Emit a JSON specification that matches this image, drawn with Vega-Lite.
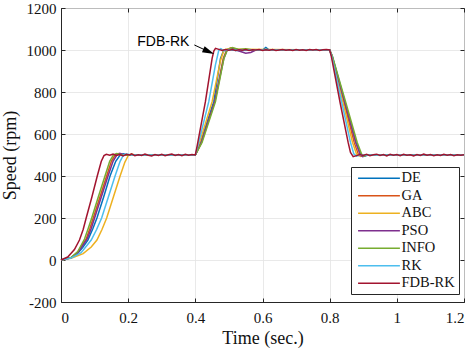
{
  "$schema": "https://vega.github.io/schema/vega-lite/v6.json",
  "width": 403,
  "height": 294,
  "autosize": {"type": "none"},
  "padding": {"left": 61, "top": 8, "right": 10, "bottom": 47},
  "background": "white",
  "config": {
    "view": {"stroke": "#262626", "strokeWidth": 1},
    "axis": {
      "labelFont": "Liberation Serif",
      "titleFont": "Liberation Serif",
      "labelFontSize": 15,
      "titleFontSize": 18,
      "titleFontWeight": "normal",
      "labelColor": "#111",
      "titleColor": "#111",
      "gridColor": "#e3e3e3",
      "gridWidth": 0.8,
      "domainColor": "#262626",
      "tickColor": "#262626",
      "tickSize": -4
    }
  },
  "resolve": {"axis": {"x": "independent", "y": "independent"}},
  "datasets": {
    "speed": [
      {"m":"DE","t":0,"v":0},{"m":"DE","t":0.03,"v":10},{"m":"DE","t":0.05,"v":32},{"m":"DE","t":0.065,"v":60},{"m":"DE","t":0.08,"v":95},{"m":"DE","t":0.095,"v":150},{"m":"DE","t":0.107,"v":200},{"m":"DE","t":0.127,"v":300},{"m":"DE","t":0.146,"v":400},{"m":"DE","t":0.163,"v":470},{"m":"DE","t":0.176,"v":500},{"m":"DE","t":0.185,"v":506},{"m":"DE","t":0.2,"v":500},{"m":"DE","t":0.4,"v":500},{"m":"DE","t":0.415,"v":560},{"m":"DE","t":0.455,"v":754},{"m":"DE","t":0.475,"v":960},{"m":"DE","t":0.485,"v":1000},{"m":"DE","t":0.5,"v":1004},{"m":"DE","t":0.52,"v":998},{"m":"DE","t":0.6,"v":1000},{"m":"DE","t":0.61,"v":1012},{"m":"DE","t":0.62,"v":1000},{"m":"DE","t":0.8,"v":1000},{"m":"DE","t":0.808,"v":970},{"m":"DE","t":0.846,"v":750},{"m":"DE","t":0.878,"v":560},{"m":"DE","t":0.892,"v":505},{"m":"DE","t":0.9,"v":493},{"m":"DE","t":0.915,"v":500},{"m":"DE","t":1.2,"v":500},

      {"m":"GA","t":0,"v":0},{"m":"GA","t":0.03,"v":11},{"m":"GA","t":0.05,"v":38},{"m":"GA","t":0.075,"v":100},{"m":"GA","t":0.086,"v":150},{"m":"GA","t":0.096,"v":200},{"m":"GA","t":0.116,"v":300},{"m":"GA","t":0.136,"v":400},{"m":"GA","t":0.15,"v":470},{"m":"GA","t":0.161,"v":500},{"m":"GA","t":0.17,"v":507},{"m":"GA","t":0.185,"v":500},{"m":"GA","t":0.4,"v":500},{"m":"GA","t":0.418,"v":560},{"m":"GA","t":0.458,"v":754},{"m":"GA","t":0.483,"v":960},{"m":"GA","t":0.493,"v":1000},{"m":"GA","t":0.505,"v":1010},{"m":"GA","t":0.52,"v":1002},{"m":"GA","t":0.8,"v":1000},{"m":"GA","t":0.807,"v":970},{"m":"GA","t":0.843,"v":750},{"m":"GA","t":0.873,"v":560},{"m":"GA","t":0.885,"v":505},{"m":"GA","t":0.893,"v":493},{"m":"GA","t":0.905,"v":500},{"m":"GA","t":1.2,"v":500},

      {"m":"ABC","t":0,"v":0},{"m":"ABC","t":0.03,"v":8},{"m":"ABC","t":0.066,"v":30},{"m":"ABC","t":0.09,"v":62},{"m":"ABC","t":0.107,"v":95},{"m":"ABC","t":0.122,"v":145},{"m":"ABC","t":0.136,"v":200},{"m":"ABC","t":0.156,"v":300},{"m":"ABC","t":0.176,"v":400},{"m":"ABC","t":0.19,"v":465},{"m":"ABC","t":0.201,"v":500},{"m":"ABC","t":0.21,"v":505},{"m":"ABC","t":0.22,"v":500},{"m":"ABC","t":0.4,"v":500},{"m":"ABC","t":0.41,"v":545},{"m":"ABC","t":0.45,"v":754},{"m":"ABC","t":0.475,"v":950},{"m":"ABC","t":0.485,"v":1000},{"m":"ABC","t":0.51,"v":1010},{"m":"ABC","t":0.53,"v":1003},{"m":"ABC","t":0.8,"v":1000},{"m":"ABC","t":0.807,"v":970},{"m":"ABC","t":0.84,"v":750},{"m":"ABC","t":0.868,"v":560},{"m":"ABC","t":0.88,"v":505},{"m":"ABC","t":0.888,"v":495},{"m":"ABC","t":0.9,"v":500},{"m":"ABC","t":1.2,"v":500},

      {"m":"PSO","t":0,"v":0},{"m":"PSO","t":0.03,"v":10},{"m":"PSO","t":0.05,"v":35},{"m":"PSO","t":0.078,"v":100},{"m":"PSO","t":0.09,"v":150},{"m":"PSO","t":0.1,"v":200},{"m":"PSO","t":0.12,"v":300},{"m":"PSO","t":0.14,"v":400},{"m":"PSO","t":0.155,"v":470},{"m":"PSO","t":0.166,"v":500},{"m":"PSO","t":0.175,"v":508},{"m":"PSO","t":0.19,"v":500},{"m":"PSO","t":0.4,"v":500},{"m":"PSO","t":0.418,"v":560},{"m":"PSO","t":0.458,"v":754},{"m":"PSO","t":0.485,"v":960},{"m":"PSO","t":0.495,"v":1000},{"m":"PSO","t":0.51,"v":1008},{"m":"PSO","t":0.53,"v":995},{"m":"PSO","t":0.55,"v":985},{"m":"PSO","t":0.565,"v":988},{"m":"PSO","t":0.58,"v":1000},{"m":"PSO","t":0.8,"v":1000},{"m":"PSO","t":0.807,"v":970},{"m":"PSO","t":0.845,"v":750},{"m":"PSO","t":0.878,"v":560},{"m":"PSO","t":0.89,"v":505},{"m":"PSO","t":0.898,"v":492},{"m":"PSO","t":0.91,"v":500},{"m":"PSO","t":1.2,"v":500},

      {"m":"INFO","t":0,"v":0},{"m":"INFO","t":0.03,"v":12},{"m":"INFO","t":0.05,"v":40},{"m":"INFO","t":0.07,"v":100},{"m":"INFO","t":0.081,"v":150},{"m":"INFO","t":0.0915,"v":200},{"m":"INFO","t":0.111,"v":300},{"m":"INFO","t":0.131,"v":400},{"m":"INFO","t":0.145,"v":470},{"m":"INFO","t":0.156,"v":500},{"m":"INFO","t":0.165,"v":507},{"m":"INFO","t":0.18,"v":500},{"m":"INFO","t":0.4,"v":500},{"m":"INFO","t":0.42,"v":560},{"m":"INFO","t":0.46,"v":754},{"m":"INFO","t":0.485,"v":960},{"m":"INFO","t":0.495,"v":1000},{"m":"INFO","t":0.51,"v":1012},{"m":"INFO","t":0.53,"v":1002},{"m":"INFO","t":0.55,"v":1006},{"m":"INFO","t":0.57,"v":1000},{"m":"INFO","t":0.8,"v":1000},{"m":"INFO","t":0.808,"v":970},{"m":"INFO","t":0.848,"v":750},{"m":"INFO","t":0.882,"v":560},{"m":"INFO","t":0.895,"v":505},{"m":"INFO","t":0.902,"v":495},{"m":"INFO","t":0.912,"v":500},{"m":"INFO","t":1.2,"v":500},

      {"m":"RK","t":0,"v":0},{"m":"RK","t":0.03,"v":9},{"m":"RK","t":0.06,"v":35},{"m":"RK","t":0.09,"v":95},{"m":"RK","t":0.106,"v":145},{"m":"RK","t":0.121,"v":200},{"m":"RK","t":0.141,"v":300},{"m":"RK","t":0.161,"v":400},{"m":"RK","t":0.176,"v":470},{"m":"RK","t":0.186,"v":500},{"m":"RK","t":0.195,"v":505},{"m":"RK","t":0.21,"v":500},{"m":"RK","t":0.4,"v":500},{"m":"RK","t":0.41,"v":560},{"m":"RK","t":0.44,"v":754},{"m":"RK","t":0.46,"v":930},{"m":"RK","t":0.47,"v":1000},{"m":"RK","t":0.476,"v":1006},{"m":"RK","t":0.485,"v":996},{"m":"RK","t":0.5,"v":1002},{"m":"RK","t":0.52,"v":1000},{"m":"RK","t":0.8,"v":1000},{"m":"RK","t":0.806,"v":970},{"m":"RK","t":0.836,"v":750},{"m":"RK","t":0.862,"v":560},{"m":"RK","t":0.872,"v":505},{"m":"RK","t":0.88,"v":495},{"m":"RK","t":0.89,"v":500},{"m":"RK","t":1.2,"v":500},

      {"m":"FDB-RK","t":0,"v":0},{"m":"FDB-RK","t":0.02,"v":14},{"m":"FDB-RK","t":0.04,"v":50},{"m":"FDB-RK","t":0.055,"v":95},{"m":"FDB-RK","t":0.066,"v":145},{"m":"FDB-RK","t":0.075,"v":200},{"m":"FDB-RK","t":0.092,"v":300},{"m":"FDB-RK","t":0.108,"v":400},{"m":"FDB-RK","t":0.12,"v":470},{"m":"FDB-RK","t":0.128,"v":497},{"m":"FDB-RK","t":0.135,"v":503},
      {"m":"FDB-RK","t":0.145,"v":499},{"m":"FDB-RK","t":0.155,"v":504},{"m":"FDB-RK","t":0.165,"v":498},{"m":"FDB-RK","t":0.175,"v":502},{"m":"FDB-RK","t":0.185,"v":496},{"m":"FDB-RK","t":0.195,"v":503},{"m":"FDB-RK","t":0.205,"v":500},{"m":"FDB-RK","t":0.21,"v":505},{"m":"FDB-RK","t":0.22,"v":497},{"m":"FDB-RK","t":0.23,"v":501},{"m":"FDB-RK","t":0.24,"v":498},{"m":"FDB-RK","t":0.25,"v":504},{"m":"FDB-RK","t":0.26,"v":499},{"m":"FDB-RK","t":0.27,"v":495},{"m":"FDB-RK","t":0.28,"v":502},{"m":"FDB-RK","t":0.29,"v":498},{"m":"FDB-RK","t":0.3,"v":503},{"m":"FDB-RK","t":0.31,"v":497},{"m":"FDB-RK","t":0.32,"v":501},{"m":"FDB-RK","t":0.33,"v":505},{"m":"FDB-RK","t":0.34,"v":498},{"m":"FDB-RK","t":0.35,"v":502},{"m":"FDB-RK","t":0.36,"v":497},{"m":"FDB-RK","t":0.37,"v":503},{"m":"FDB-RK","t":0.38,"v":499},{"m":"FDB-RK","t":0.39,"v":502},{"m":"FDB-RK","t":0.4,"v":500},
      {"m":"FDB-RK","t":0.405,"v":540},{"m":"FDB-RK","t":0.43,"v":754},{"m":"FDB-RK","t":0.45,"v":960},{"m":"FDB-RK","t":0.455,"v":995},{"m":"FDB-RK","t":0.46,"v":1008},{"m":"FDB-RK","t":0.47,"v":1003},{"m":"FDB-RK","t":0.48,"v":998},{"m":"FDB-RK","t":0.49,"v":1002},{"m":"FDB-RK","t":0.5,"v":999},{"m":"FDB-RK","t":0.51,"v":1002},{"m":"FDB-RK","t":0.52,"v":998},{"m":"FDB-RK","t":0.53,"v":1001},{"m":"FDB-RK","t":0.54,"v":999},{"m":"FDB-RK","t":0.55,"v":1002},{"m":"FDB-RK","t":0.56,"v":998},{"m":"FDB-RK","t":0.57,"v":1001},{"m":"FDB-RK","t":0.58,"v":1000},{"m":"FDB-RK","t":0.59,"v":1002},{"m":"FDB-RK","t":0.6,"v":998},{"m":"FDB-RK","t":0.61,"v":1001},{"m":"FDB-RK","t":0.62,"v":999},{"m":"FDB-RK","t":0.63,"v":1002},{"m":"FDB-RK","t":0.64,"v":998},{"m":"FDB-RK","t":0.65,"v":1000},{"m":"FDB-RK","t":0.66,"v":1002},{"m":"FDB-RK","t":0.67,"v":999},{"m":"FDB-RK","t":0.68,"v":1001},{"m":"FDB-RK","t":0.69,"v":998},{"m":"FDB-RK","t":0.7,"v":1002},{"m":"FDB-RK","t":0.71,"v":999},{"m":"FDB-RK","t":0.72,"v":1001},{"m":"FDB-RK","t":0.73,"v":998},{"m":"FDB-RK","t":0.74,"v":1002},{"m":"FDB-RK","t":0.75,"v":1000},{"m":"FDB-RK","t":0.76,"v":1002},{"m":"FDB-RK","t":0.77,"v":998},{"m":"FDB-RK","t":0.78,"v":1001},{"m":"FDB-RK","t":0.79,"v":1002},{"m":"FDB-RK","t":0.8,"v":1000},
      {"m":"FDB-RK","t":0.805,"v":970},{"m":"FDB-RK","t":0.831,"v":750},{"m":"FDB-RK","t":0.855,"v":560},{"m":"FDB-RK","t":0.862,"v":512},{"m":"FDB-RK","t":0.87,"v":492},{"m":"FDB-RK","t":0.88,"v":497},{"m":"FDB-RK","t":0.89,"v":502},{"m":"FDB-RK","t":0.9,"v":498},{"m":"FDB-RK","t":0.91,"v":503},{"m":"FDB-RK","t":0.92,"v":497},{"m":"FDB-RK","t":0.93,"v":501},{"m":"FDB-RK","t":0.94,"v":504},{"m":"FDB-RK","t":0.95,"v":498},{"m":"FDB-RK","t":0.96,"v":502},{"m":"FDB-RK","t":0.97,"v":496},{"m":"FDB-RK","t":0.98,"v":503},{"m":"FDB-RK","t":0.99,"v":499},{"m":"FDB-RK","t":1.0,"v":502},{"m":"FDB-RK","t":1.01,"v":497},{"m":"FDB-RK","t":1.02,"v":503},{"m":"FDB-RK","t":1.03,"v":499},{"m":"FDB-RK","t":1.04,"v":501},{"m":"FDB-RK","t":1.05,"v":496},{"m":"FDB-RK","t":1.06,"v":502},{"m":"FDB-RK","t":1.07,"v":498},{"m":"FDB-RK","t":1.08,"v":504},{"m":"FDB-RK","t":1.09,"v":499},{"m":"FDB-RK","t":1.1,"v":502},{"m":"FDB-RK","t":1.11,"v":497},{"m":"FDB-RK","t":1.12,"v":501},{"m":"FDB-RK","t":1.13,"v":498},{"m":"FDB-RK","t":1.14,"v":503},{"m":"FDB-RK","t":1.15,"v":499},{"m":"FDB-RK","t":1.16,"v":502},{"m":"FDB-RK","t":1.17,"v":497},{"m":"FDB-RK","t":1.18,"v":501},{"m":"FDB-RK","t":1.19,"v":499},{"m":"FDB-RK","t":1.2,"v":501}
    ],
    "note": [{"label": "FDB-RK", "tx": 0.227, "ty": 1038, "x1": 0.397, "y1": 1024, "x2": 0.44, "y2": 992}]
  },
  "layer": [
    {
      "data": {"name": "speed"},
      "mark": {"type": "line", "strokeWidth": 1.5, "interpolate": "linear"},
      "encoding": {
        "x": {
          "field": "t", "type": "quantitative",
          "scale": {"domain": [0, 1.2], "nice": false, "zero": false},
          "axis": {"title": "Time (sec.)", "values": [0, 0.2, 0.4, 0.6, 0.8, 1, 1.2], "labelExpr": "'' + datum.value", "labelFont": "Liberation Serif", "labelPadding": 12, "titlePadding": 4}
        },
        "y": {
          "field": "v", "type": "quantitative",
          "scale": {"domain": [-200, 1200], "nice": false, "zero": false},
          "axis": {"title": "Speed (rpm)", "values": [-200, 0, 200, 400, 600, 800, 1000, 1200], "labelExpr": "'' + datum.value", "labelFont": "Liberation Serif", "labelPadding": 9, "titlePadding": 7}
        },
        "color": {
          "field": "m", "type": "nominal",
          "scale": {
            "domain": ["DE", "GA", "ABC", "PSO", "INFO", "RK", "FDB-RK"],
            "range": ["#0072BD", "#D95319", "#EDB120", "#7E2F8E", "#77AC30", "#4DBEEE", "#A2142F"]
          },
          "legend": {
            "title": null,
            "orient": "none",
            "legendX": 290,
            "legendY": 159,
            "direction": "vertical",
            "symbolType": "M-1,0H9",
            "symbolSize": 70,
            "symbolStrokeWidth": 1.5,
            "labelFont": "Liberation Serif",
            "labelFontSize": 14.5,
            "labelColor": "#111",
            "labelOffset": 32,
            "rowPadding": 2.5,
            "padding": 4,
            "strokeColor": "#262626",
            "fillColor": "white"
          }
        }
      }
    },
    {
      "data": {"name": "note"},
      "mark": {"type": "rule", "color": "black", "strokeWidth": 1},
      "encoding": {
        "x": {"field": "x1", "type": "quantitative", "axis": {"orient": "top", "values": [0, 0.2, 0.4, 0.6, 0.8, 1, 1.2], "labels": false, "title": null, "grid": false, "domain": false, "tickSize": -4}},
        "y": {"field": "y1", "type": "quantitative", "axis": {"orient": "right", "values": [-200, 0, 200, 400, 600, 800, 1000, 1200], "labels": false, "title": null, "grid": false, "domain": false, "tickSize": -4}},
        "x2": {"field": "x2"},
        "y2": {"field": "y2"}
      }
    },
    {
      "data": {"name": "note"},
      "mark": {"type": "point", "shape": "M1,0L-1,-0.55L-1,0.55Z", "filled": true, "color": "black", "opacity": 1, "size": 144, "angle": 24},
      "encoding": {
        "x": {"field": "x2", "type": "quantitative", "axis": null},
        "y": {"field": "y2", "type": "quantitative", "axis": null}
      }
    },
    {
      "data": {"name": "note"},
      "mark": {"type": "text", "font": "Liberation Sans", "fontSize": 14, "align": "left", "baseline": "middle", "color": "black"},
      "encoding": {
        "x": {"field": "tx", "type": "quantitative", "axis": null},
        "y": {"field": "ty", "type": "quantitative", "axis": null},
        "text": {"field": "label"}
      }
    }
  ]
}
